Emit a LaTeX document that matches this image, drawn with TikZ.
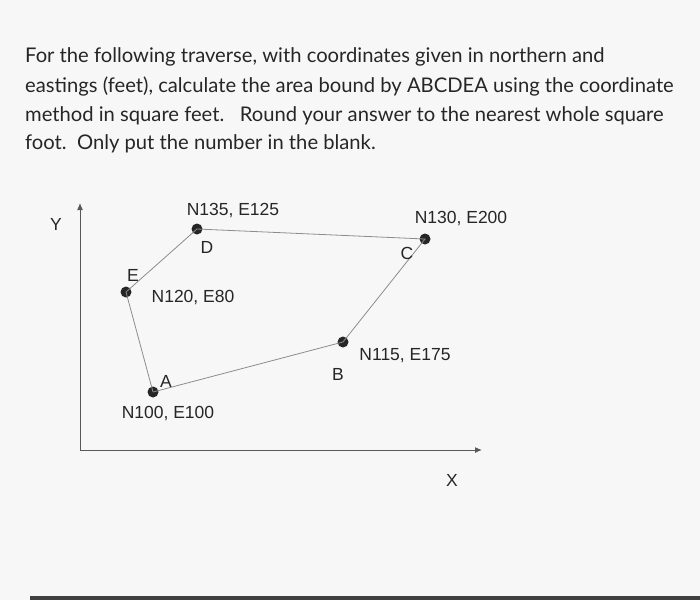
\documentclass[tikz,border=0pt]{standalone}
\usepackage{fontspec}
\usetikzlibrary{arrows.meta}
\setmainfont{Lato}
\newfontfamily\arialf{Liberation Sans}
\begin{document}
\begin{tikzpicture}[x=1pt,y=-1pt,
  para/.style={anchor=west,inner sep=0pt,font=\fontsize{20.2}{22}\selectfont,text=black!85},
  lab/.style={inner sep=0pt,font=\arialf\fontsize{17.5}{19}\selectfont,text=black!85},
  pt/.style={circle,fill=black!85,minimum size=11pt,inner sep=0pt},
  edge/.style={draw=black!45,line width=0.8pt},
  axis/.style={draw=black!65,line width=1pt,-{Latex[length=7pt,width=6pt]}}]
\fill[black!3] (0,0) rectangle (700,600);
\useasboundingbox (0,0) rectangle (700,600);
\fill[black!75] (30,596) rectangle (700,600);
\node[para] (l1) at (25,57) {For the following traverse, with coordinates given in northern and};
\node[para] (l2) at (25,87) {eastings (feet), calculate the area bound by ABCDEA using the coordinate};
\node[para] (l3) at (25,116) {method in square feet.\ \ \ Round your answer to the nearest whole square};
\node[para] (l4) at (25,144) {foot.\ \ Only put the number in the blank.};
\coordinate (O) at (80,450);
\coordinate (Yt) at (80,203);
\coordinate (Xt) at (482,450);
\draw[axis] (O) -- (Yt);
\draw[axis] (O) -- (Xt);
\node[lab] (Y) at (56,224) {Y};
\node[lab] (X) at (452,480) {X};
\node[pt] (D) at (197,229) {};
\node[pt] (C) at (425,239) {};
\node[pt] (E) at (126,292) {};
\node[pt] (B) at (343,342) {};
\node[pt] (A) at (153,392) {};
\draw[edge] (A.center) -- (B.center) -- (C.center) -- (D.center) -- (E.center) -- (A.center);
\node[lab] (Dl) at (207,247) {D};
\node[lab] (Cl) at (407,253) {C};
\node[lab] (El) at (133,275) {E};
\node[lab] (Bl) at (338,374) {B};
\node[lab] (Al) at (166,381) {A};
\node[lab] (Dc) at (233,211) {N135, E125};
\node[lab] (Cc) at (461,219) {N130, E200};
\node[lab] (Ec) at (193,298) {N120, E80};
\node[lab] (Bc) at (405,356) {N115, E175};
\node[lab] (Ac) at (168,413) {N100, E100};
\end{tikzpicture}
\end{document}
